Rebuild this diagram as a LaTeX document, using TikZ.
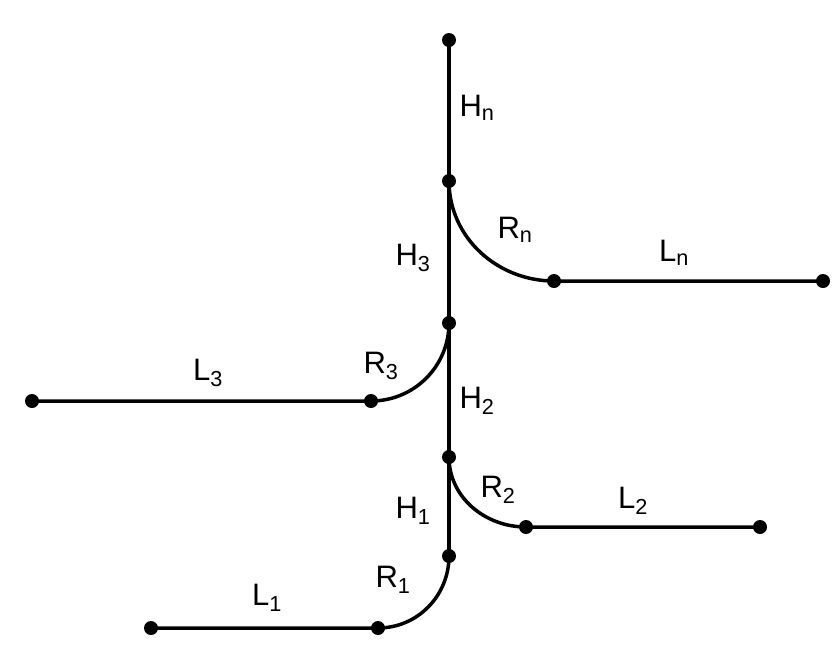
\documentclass[tikz,border=0pt]{standalone}
\usepackage{fontspec}
\setmainfont{Liberation Sans}
\begin{document}
\begin{tikzpicture}[x=1pt,y=-1pt,
  dot/.style={circle,fill=black,inner sep=0pt,minimum size=14pt},
  seg/.style={line width=3.5pt},
  lbl/.style={font=\fontsize{31}{35}\selectfont}]
\useasboundingbox (0,0) rectangle (839,649);
\node[dot] (v0) at (449,40) {};
\node[dot] (v1) at (449,181) {};
\node[dot] (v2) at (449,323) {};
\node[dot] (v3) at (449,457) {};
\node[dot] (v4) at (449,556) {};
\node[dot] (rn) at (554,281) {};
\node[dot] (ln) at (823,281) {};
\node[dot] (r3) at (371,401) {};
\node[dot] (l3) at (32,401) {};
\node[dot] (r2) at (526,527) {};
\node[dot] (l2) at (760,527) {};
\node[dot] (r1) at (378,628) {};
\node[dot] (l1) at (151,628) {};
\draw[seg] (v0.center) -- (v4.center);
\draw[seg] (v1.center) to[out=-90,in=180] (rn.center) -- (ln.center);
\draw[seg] (v2.center) to[out=-90,in=0] (r3.center) -- (l3.center);
\draw[seg] (v3.center) to[out=-90,in=180] (r2.center) -- (l2.center);
\draw[seg] (v4.center) to[out=-90,in=0] (r1.center) -- (l1.center);
\node[lbl] (tHn) at (477,108) {H\textsubscript{n}};
\node[lbl] (tH3) at (413,258) {H\textsubscript{3}};
\node[lbl] (tRn) at (515,230) {R\textsubscript{n}};
\node[lbl] (tLn) at (674,253) {L\textsubscript{n}};
\node[lbl] (tL3) at (208,373) {L\textsubscript{3}};
\node[lbl] (tR3) at (381,366) {R\textsubscript{3}};
\node[lbl] (tH2) at (477,401) {H\textsubscript{2}};
\node[lbl] (tR2) at (498,490) {R\textsubscript{2}};
\node[lbl] (tL2) at (633,501) {L\textsubscript{2}};
\node[lbl] (tH1) at (413,511) {H\textsubscript{1}};
\node[lbl] (tR1) at (393,580) {R\textsubscript{1}};
\node[lbl] (tL1) at (267,598) {L\textsubscript{1}};
\end{tikzpicture}
\end{document}
